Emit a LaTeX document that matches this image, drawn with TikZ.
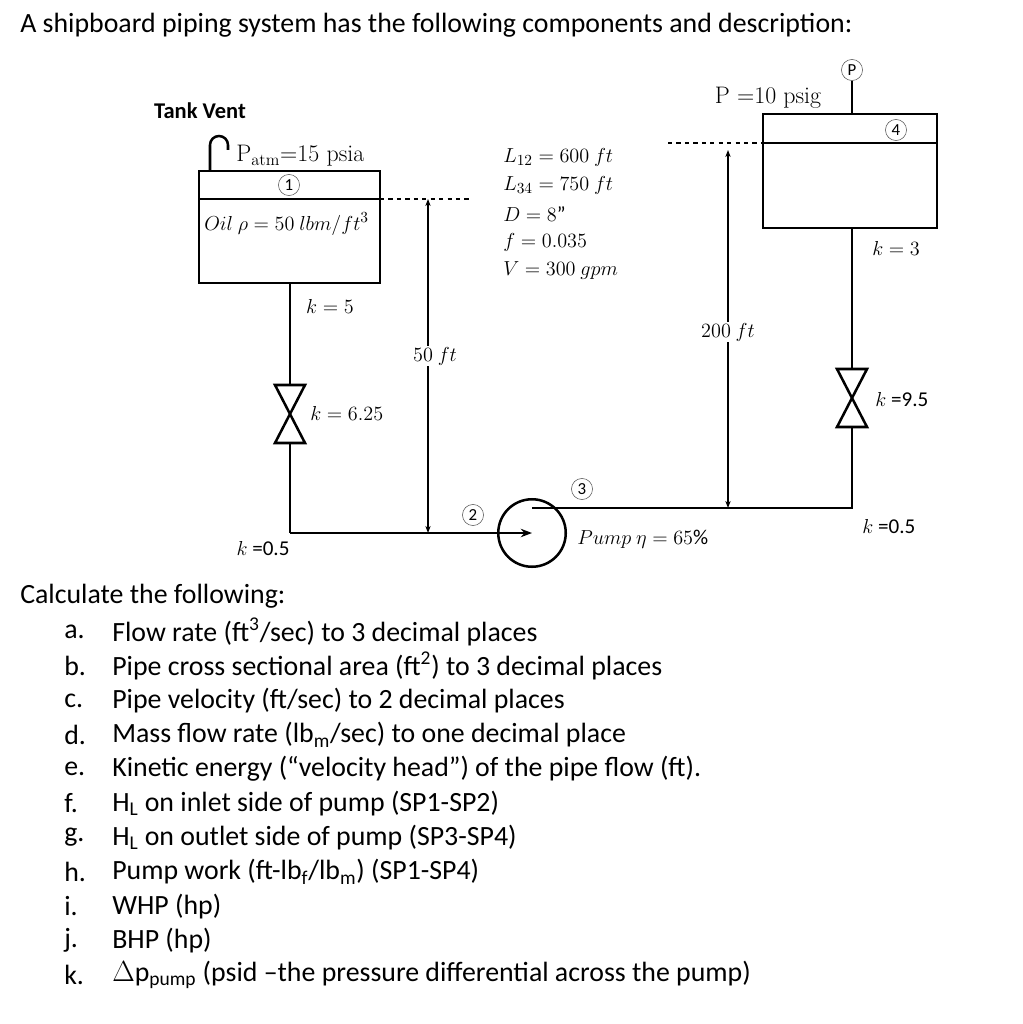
\documentclass[tikz,border=0pt]{standalone}
\usepackage{fontspec}
\setmainfont{Carlito}
\newfontfamily\serifrm{Latin Modern Roman}
\usepackage{amsmath}
\usetikzlibrary{arrows.meta}
\tikzset{
  pipe/.style={line width=1.8pt},
  tank/.style={draw, line width=2pt},
  pt/.style={draw, circle, gray!70!black, text=black, inner sep=1pt, minimum size=15pt, font=\fontsize{12}{13}\selectfont},
  dim/.style={line width=0.9pt, {Stealth[length=5pt]}-{Stealth[length=5pt]}},
  lbl/.style={font=\fontsize{15}{17}\selectfont, inner sep=0pt},
  txt/.style={font=\fontsize{19.8}{22}\selectfont, anchor=west, inner sep=0pt}
}
\begin{document}
\begin{tikzpicture}[x=0.025cm,y=-0.025cm]
  \useasboundingbox (0,0) rectangle (1023,1024);
  % Titel
  \node[txt] (title) at (20,25) {A shipboard piping system has the following components and description:};

  % Linker Tank
  \draw[tank] (199,171) rectangle (380,283);
  \draw[line width=0.8pt] (199,199) -- (380,199);
  \draw[pipe] (210,171) -- (210,145) arc (180:360:9) -- (228,150);
  \node[lbl, font=\bfseries\fontsize{16}{17}\selectfont] (vent) at (200,111) {Tank Vent};
  \node[lbl, font=\serifrm\fontsize{17}{18}\selectfont, anchor=west] (patm) at (236,156) {P\textsubscript{atm}=15 psia};
  \node[pt] (p1) at (289,185) {1};
  \node[lbl, anchor=west] (oil) at (204,224) {$Oil\ \rho = 50\ lbm/ft^3$};

  % Rechter Tank
  \draw[tank] (763,114) rectangle (937,228);
  \draw[line width=0.8pt] (763,143) -- (937,143);
  \node[pt] (gauge) at (852,70) {P};
  \draw[pipe] (gauge) -- (852,114);
  \node[lbl, font=\serifrm\fontsize{17}{18}\selectfont] (psig) at (768,98) {P =10 psig};
  \node[pt] (p4) at (896,130) {4};

  % Leitungen
  \coordinate (c1) at (290,283);
  \coordinate (c2) at (290,533);
  \coordinate (c3) at (532,508);
  \coordinate (c4) at (852,508);
  \coordinate (c5) at (852,228);
  \node[draw, circle, line width=1.8pt, minimum size=48pt, inner sep=0pt] (pump) at (532,533) {};
  \draw[pipe] (c1) -- (c2);
  \draw[pipe, -{Stealth[length=8pt]}] (c2) -- (pump.center);
  \draw[pipe] (c3) -- (c4) -- (c5);

  % Ventile
  \foreach \x/\y in {290/414, 852/398}{
    \draw[pipe, fill=white] (\x-15,\y-29) -- (\x+15,\y-29) -- (\x-15,\y+29) -- (\x+15,\y+29) -- cycle;
  }

  % Hoehen
  \coordinate (h1b) at (428,533);
  \coordinate (h1t) at (428,199);
  \coordinate (h2b) at (728,508);
  \coordinate (h2t) at (728,150);
  \draw[dashed, line width=0.8pt] (380,199) -- (470,199);
  \draw[dashed, line width=0.8pt] (668,143) -- (763,143);
  \draw[dim] (h1b) -- (h1t);
  \draw[dim] (h2b) -- (h2t);
  \node[lbl, fill=white, inner sep=1pt] (h50) at (435,356) {$50\ ft$};
  \node[lbl, fill=white, inner sep=1pt] (h200) at (728,332) {$200\ ft$};

  % Beschriftungen
  \node[lbl] (k5) at (330,306) {$k = 5$};
  \node[lbl, anchor=west] (k625) at (310,413) {$k = 6.25$};
  \node[lbl] (k05a) at (263,549) {$k$ =0.5};
  \node[pt] (p2) at (473,515) {2};
  \node[pt] (p3) at (582,489) {3};
  \node[lbl, anchor=west] (eta) at (577,539) {$Pump\ \eta = 65\%$};
  \node[lbl, anchor=west] (k3) at (872,248) {$k = 3$};
  \node[lbl, anchor=west] (k95) at (875,400) {$k$ =9.5};
  \node[lbl, anchor=west] (k05b) at (862,527) {$k$ =0.5};

  % Daten
  \foreach \t [count=\i] in {{$L_{12} = 600\ ft$},{$L_{34} = 750\ ft$},{$D = 8"$},{$f = 0.035$},{$V = 300\ gpm$}}{
    \node[lbl, anchor=west] (d\i) at (503,129+28.4*\i) {\t};
  }

  % Aufgaben
  \node[txt] (calc) at (20,596) {Calculate the following:};
  \foreach \l/\t [count=\i] in {
    a./{Flow rate (ft\textsuperscript{3}/sec) to 3 decimal places},
    b./{Pipe cross sectional area (ft\textsuperscript{2}) to 3 decimal places},
    c./{Pipe velocity (ft/sec) to 2 decimal places},
    d./{Mass flow rate (lb\textsubscript{m}/sec) to one decimal place},
    e./{Kinetic energy (“velocity head”) of the pipe flow (ft).},
    f./{H\textsubscript{L} on inlet side of pump (SP1-SP2)},
    g./{H\textsubscript{L} on outlet side of pump (SP3-SP4)},
    h./{Pump work (ft-lb\textsubscript{f}/lb\textsubscript{m}) (SP1-SP4)},
    i./{WHP (hp)},
    j./{BHP (hp)},
    k./{$\Delta$p\textsubscript{pump} (psid –the pressure differential across the pump)}}{
    \node[txt] (l\i) at (64,597.5+34.3*\i) {\l};
    \node[txt] (t\i) at (112,597.5+34.3*\i) {\t};
  }
\end{tikzpicture}
\end{document}
